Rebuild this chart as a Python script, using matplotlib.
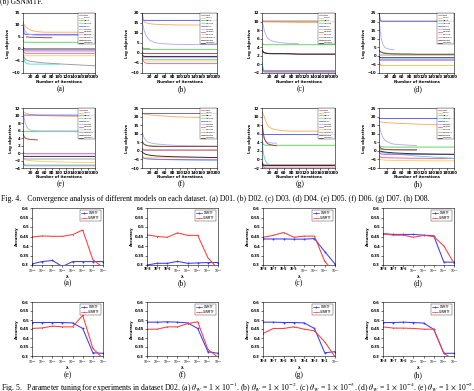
import numpy as np
import matplotlib
matplotlib.use('Agg')
import matplotlib.pyplot as plt

W, H = 474, 391
nan = np.nan

# ---------------- Fig. 4 data (convergence) ----------------
iters = [1, 3, 6, 10, 15, 20, 30, 40, 60, 80, 100, 150, 200]
models = ["NMF", "GNMF", "DRCC", "ONMTF", "DNMF", "SDNMF", "GDNMF",
          "DNMTF", "GDNMTF", "GSNMF", "GSNMTF"]
model_colors = ['#ff5c8a', '#ffae5c', '#5ad65a', '#4fdede', '#5a5aee',
                '#b9a8ff', '#b455d8', '#ffd060', '#9a9a9a', '#9a4040', '#22223a']

D01 = [
    [-1.0, -1.6, -1.8, -1.8, -1.8, -1.8, -1.8, -1.8, -1.8, -1.8, -1.8, -1.8, -1.8],
    [10.6, 10.2, 9.6, 9.0, 8.4, 8.0, 7.5, 7.2, 7.0, 7.0, 7.0, 7.0, 7.0],
    [3.4, 2.9, 2.8, 2.8, 2.8, 2.8, 2.8, 2.8, 2.8, 2.8, 2.8, 2.8, 2.8],
    [-3.0, -4.6, -5.6, -6.0, -6.2, -6.3, -6.3, -6.3, -6.3, -6.3, -6.3, nan, nan],
    [9.2, 6.4, 6.1, 6.1, 6.1, 6.1, 6.1, 6.1, 6.1, 6.1, 6.1, 6.1, 6.1],
    [11.2, 9.0, 7.4, 6.6, 6.2, 6.0, 5.8, 5.7, 5.7, 5.7, 5.7, 5.7, 5.7],
    [-0.5, -0.8, -0.8, -0.8, -0.8, -0.8, -0.8, -0.8, -0.8, -0.8, -0.8, -0.8, -0.8],
    [-2.2, -2.7, -2.8, -2.8, -2.8, -2.8, -2.8, -2.8, -2.8, -2.8, -2.8, -2.8, -2.8],
    [-2.5, -3.5, -4.2, -4.6, -4.9, -5.1, -5.3, -5.5, -5.8, -6.0, -6.2, -6.6, -7.0],
    [nan, nan, nan, 5.0, 5.0, 4.9, 4.9, 4.8, 4.7, 4.7, nan, nan, nan],
    [0.6, 0.1, 0.0, 0.0, 0.0, 0.0, 0.0, 0.0, 0.0, 0.0, 0.0, 0.0, 0.0],
]
D02 = [
    [-3.0, -3.8, -4.5, -5.0, -5.2, -5.3, -5.3, -5.3, -5.3, -5.3, -5.3, -5.3, -5.3],
    [16.3, 16.0, 15.6, 15.2, 14.9, 14.7, 14.4, 14.3, 14.2, 14.1, 14.0, 14.0, 14.0],
    [2.5, 1.8, 1.7, 1.7, 1.7, 1.7, 1.7, 1.7, 1.7, 1.7, 1.7, 1.7, 1.7],
    [-2.5, -3.2, -3.3, -3.3, -3.3, -3.3, -3.3, -3.3, -3.3, -3.3, -3.3, -3.3, -3.3],
    [20.0, 16.5, 16.3, 16.3, 16.3, 16.3, 16.3, 16.3, 16.3, 16.3, 16.3, 16.3, 16.3],
    [16.0, 13.5, 11.0, 9.0, 7.5, 6.5, 5.5, 5.0, 4.6, 4.4, 4.3, 4.2, 4.2],
    [-1.5, -2.0, -2.0, -2.0, -2.0, -2.0, -2.0, -2.0, -2.0, -2.0, -2.0, -2.0, -2.0],
    [-1.5, -2.5, -3.2, -3.7, -4.0, -4.0, -4.0, -4.0, -4.0, -4.0, -4.0, -4.0, -4.0],
    [3.0, 2.4, 2.2, 2.2, 2.2, 2.2, nan, nan, nan, nan, nan, nan, nan],
    [0.5, -0.2, -0.3, -0.3, -0.3, -0.3, -0.3, -0.3, -0.3, -0.3, -0.3, -0.3, -0.3],
    [-1.0, -1.5, -1.7, -1.7, -1.7, -1.7, -1.7, -1.7, -1.7, -1.7, -1.7, -1.7, -1.7],
]
D03 = [
    [-0.5, -1.2, -1.4, -1.4, -1.4, -1.4, -1.4, -1.4, -1.4, -1.4, -1.4, -1.4, -1.4],
    [10.1, 10.0, 9.95, 9.9, 9.9, 9.9, 9.9, 9.9, 9.85, 9.85, 9.8, 9.8, 9.8],
    [4.9, 4.7, 4.6, 4.6, 4.6, 4.6, 4.6, 4.6, 4.6, 4.6, 4.6, 4.6, 4.6],
    [0.5, -1.0, -1.4, -1.5, -1.5, -1.5, -1.5, -1.5, -1.5, -1.5, -1.5, -1.5, -1.5],
    [10.2, 10.1, 10.1, 10.1, 10.1, 10.1, 10.1, 10.1, 10.1, 10.1, 10.1, 10.1, 10.1],
    [10.0, 9.3, 8.0, 7.0, 6.2, 5.8, 5.4, 5.2, 5.0, 4.9, 4.85, nan, nan],
    [-0.8, -1.5, -1.6, -1.6, -1.6, -1.6, -1.6, -1.6, -1.6, -1.6, -1.6, -1.6, -1.6],
    [10.4, 10.2, 10.2, 10.2, 10.2, 10.2, 10.2, 10.2, 10.2, 10.2, 10.2, 10.2, 10.2],
    [-1.0, -1.7, -1.8, -1.8, -1.8, -1.8, -1.8, -1.8, -1.8, -1.8, -1.8, -1.8, -1.8],
    [3.3, 3.0, 2.8, 2.7, 2.6, 2.6, 2.5, 2.5, 2.5, 2.5, 2.4, 2.4, 2.4],
    [3.2, 2.9, 2.7, 2.6, 2.55, 2.5, 2.5, 2.5, 2.5, 2.45, 2.4, 2.4, 2.4],
]
D04 = [
    [-4.0, -5.0, -5.5, -5.6, -5.6, -5.6, -5.6, -5.6, -5.6, -5.6, -5.6, -5.6, -5.6],
    [20.5, 20.3, 20.2, 20.2, 20.2, 20.2, 20.2, 20.2, 20.2, 20.2, 20.2, 20.2, 20.2],
    [3.0, 2.6, 2.3, 2.0, 1.8, 1.6, 1.4, 1.3, 1.2, 1.1, 1.0, 1.0, 1.0],
    [-1.5, -2.0, -2.0, -2.0, -2.0, -2.0, -2.0, -2.0, -2.0, -2.0, -2.0, -2.0, -2.0],
    [25.0, 21.0, 20.3, 20.2, 20.2, 20.2, 20.2, 20.2, 20.2, 20.2, 20.2, 20.2, 20.2],
    [20.0, 15.0, 10.0, 7.0, 5.0, 4.3, 3.8, 3.5, nan, nan, nan, nan, nan],
    [-2.0, -2.5, -2.5, -2.5, -2.5, -2.5, -2.5, -2.5, -2.5, -2.5, -2.5, -2.5, -2.5],
    [-4.5, -5.3, -5.6, -5.6, -5.6, -5.6, -5.6, -5.6, -5.6, -5.6, -5.6, -5.6, -5.6],
    [0.6, 0.5, 0.5, 0.5, 0.5, 0.5, 0.5, 0.5, 0.5, 0.5, 0.5, 0.5, 0.5],
    [3.2, 2.5, 2.0, 1.7, 1.5, 1.3, 1.2, 1.1, 1.0, 1.0, 0.9, 0.9, 0.9],
    [-0.5, -1.0, -1.1, -1.1, -1.1, -1.1, -1.1, -1.1, -1.1, -1.1, -1.1, -1.1, -1.1],
]
D05 = [
    [-2.5, -3.2, -3.4, -3.4, -3.4, -3.4, -3.4, -3.4, -3.4, -3.4, -3.4, -3.4, -3.4],
    [11.1, 10.9, 10.7, 10.5, 10.4, 10.3, 10.2, 10.1, 10.0, 9.9, 9.85, 9.75, 9.7],
    [6.0, 5.8, 5.7, 5.7, 5.7, 5.7, 5.7, 5.7, 5.7, 5.7, 5.7, 5.7, 5.7],
    [-2.5, -3.0, -3.2, -3.2, -3.2, -3.2, -3.2, -3.2, -3.2, -3.2, -3.2, -3.2, -3.2],
    [10.2, 10.1, 10.1, 10.1, 10.1, 10.1, 10.1, 10.1, 10.1, 10.1, 10.1, 10.1, 10.1],
    [11.0, 9.5, 8.0, 7.0, 6.4, 6.1, 6.0, 5.9, 5.9, 5.9, 5.9, 5.9, 5.9],
    [0.2, -0.1, -0.2, -0.2, -0.2, -0.2, -0.2, -0.2, -0.2, -0.2, -0.2, -0.2, -0.2],
    [-1.5, -1.7, -1.8, -1.9, -2.0, -2.0, -2.1, -2.2, -2.3, -2.3, -2.4, -2.5, -2.5],
    [-1.2, -1.5, -1.6, -1.6, -1.6, -1.6, -1.6, -1.6, -1.6, -1.6, -1.6, -1.6, -1.6],
    [4.9, 4.4, 4.0, 3.8, 3.7, 3.6, 3.55, 3.5, nan, nan, nan, nan, nan],
    [-0.7, -0.9, -0.9, -0.9, -0.9, -0.9, -0.9, -0.9, -0.9, -0.9, -0.9, -0.9, -0.9],
]
D06 = [
    [0.8, 0.4, 0.3, 0.3, 0.3, 0.3, 0.3, 0.3, 0.3, 0.3, 0.3, 0.3, 0.3],
    [21.8, 21.6, 21.5, 21.3, 21.2, 21.0, 20.8, 20.6, 20.3, 20.0, 19.8, 19.5, 19.3],
    [5.0, 4.3, 3.8, 3.5, 3.2, 3.0, 2.9, 2.8, 2.7, 2.7, 2.7, 2.7, 2.7],
    [-3.5, -4.2, -4.5, -4.6, -4.7, -4.8, -4.9, -5.0, -5.1, -5.2, -5.3, -5.4, -5.5],
    [22.0, 21.8, 21.8, 21.8, 21.8, 21.8, 21.8, 21.8, 21.8, 21.8, 21.8, 21.8, 21.8],
    [10.5, 9.0, 7.5, 6.2, 5.3, 4.8, 4.3, 4.0, 3.6, 3.3, 3.1, 2.9, 2.7],
    [-3.0, -4.0, -4.3, -4.5, -4.6, -4.7, -4.8, -4.9, -5.0, -5.0, -5.1, -5.2, -5.2],
    [-2.5, -3.5, -3.8, -4.0, -4.0, -4.0, -4.0, -4.0, -4.0, -4.0, -4.0, -4.0, -4.0],
    [1.5, 0.9, 0.7, 0.6, 0.6, 0.6, 0.6, 0.6, 0.6, 0.6, 0.6, 0.6, 0.6],
    [5.6, 4.5, 3.8, 3.3, 3.0, 2.8, 2.6, 2.5, 2.5, 2.5, 2.5, 2.5, 2.5],
    [-0.8, -1.2, -1.6, -2.0, -2.3, -2.5, -2.8, -3.0, -3.2, -3.4, -3.5, -3.7, -3.9],
]
D07 = [
    [-1.0, -1.6, -1.9, -2.0, -2.0, -2.0, -2.0, -2.0, -2.0, -2.0, -2.0, -2.0, -2.0],
    [11.0, 10.6, 10.0, 9.0, 8.0, 7.5, 7.1, 6.9, 6.7, 6.6, 6.6, 6.6, 6.6],
    [4.2, 3.6, 3.4, 3.3, 3.3, 3.3, 3.3, 3.3, 3.3, 3.3, 3.3, 3.3, 3.3],
    [4.0, 2.0, 0.5, -0.5, -1.0, -1.2, -1.3, -1.3, -1.3, -1.3, -1.3, -1.3, -1.3],
    [6.0, 6.0, 6.0, 6.0, 6.0, 6.0, 6.0, 6.0, 6.0, 6.0, 6.0, 6.0, 6.0],
    [8.0, 6.0, 4.8, 4.3, 4.0, 3.9, 3.8, 3.8, nan, nan, nan, nan, nan],
    [-1.2, -1.5, -1.5, -1.5, -1.5, -1.5, -1.5, -1.5, -1.5, -1.5, -1.5, -1.5, -1.5],
    [-0.6, -1.1, -1.2, -1.2, -1.2, -1.2, -1.2, -1.2, -1.2, -1.2, -1.2, -1.2, -1.2],
    [-0.8, -1.2, -1.3, -1.3, -1.3, -1.3, -1.3, -1.3, -1.3, -1.3, -1.3, -1.3, -1.3],
    [8.0, 6.5, 5.0, 4.2, 3.7, 3.5, 3.3, 3.2, nan, nan, nan, nan, nan],
    [-1.0, -1.3, -1.4, -1.4, -1.4, -1.4, -1.4, -1.4, -1.4, -1.4, -1.4, -1.4, -1.4],
]
D08 = [
    [-3.0, -3.5, -3.8, -4.0, -4.0, -4.0, -4.1, -4.1, -4.2, -4.3, -4.3, -4.4, -4.5],
    [17.0, 16.9, 16.8, 16.7, 16.6, 16.5, 16.3, 16.2, 16.0, 15.8, 15.6, 15.3, 15.1],
    [3.5, 2.8, 2.5, 2.3, 2.2, 2.2, 2.2, 2.2, 2.2, 2.2, 2.2, 2.2, 2.2],
    [0.0, -0.5, -0.8, -1.0, -1.2, -1.3, -1.6, -1.8, -2.2, -2.6, -3.0, -3.7, -4.3],
    [18.9, 18.9, 18.9, 18.9, 18.9, 18.9, 18.9, 18.9, 18.9, 18.9, 18.9, 18.9, 18.9],
    [15.0, 12.5, 10.4, 8.0, 6.3, 5.6, 4.5, 3.9, 3.6, 3.3, 3.1, nan, nan],
    [-1.0, -1.5, -1.8, -1.9, -2.0, -2.0, -2.0, -2.0, -2.0, -2.0, -2.0, -2.0, -2.0],
    [-4.5, -5.0, -5.2, -5.3, -5.4, -5.5, -5.5, -5.6, -5.6, -5.7, -5.7, -5.8, -5.8],
    [1.5, 1.0, 0.8, 0.7, 0.7, 0.7, 0.7, 0.7, 0.7, 0.7, 0.7, nan, nan],
    [2.7, 2.0, 1.5, 1.1, 0.9, 0.8, 0.7, 0.6, 0.55, 0.5, 0.5, nan, nan],
    [0.0, -0.1, -0.3, -0.5, -0.7, -0.8, -1.0, -1.2, -1.4, -1.6, -1.7, -1.9, -2.0],
]
conv_data = [D01, D02, D03, D04, D05, D06, D07, D08]
conv_ylims = [(-10, 15), (-10, 20), (-2, 12), (-10, 25), (-4, 12), (-10, 25), (-2, 12), (-10, 25)]
conv_ysteps = [5, 5, 2, 5, 2, 5, 2, 5]
iter_ticks = [20, 40, 60, 80, 100, 120, 140, 160, 180, 200]

# ---------------- Fig. 5 data (parameter tuning) ----------------
lam_pos = [0, 1, 2, 3, 4, 5, 6, 7]
sup = ['$10^{-8}$', '$10^{-7}$', '$10^{-6}$', '$10^{-5}$', '$10^{-4}$', '$10^{-3}$', '$10^{-2}$', '$10^{-1}$']
e_fmt = ['1E-8', '1E-7', '1E-6', '1E-5', '1E-4', '1E-3', '1E-2', '1E-1']
lam_labels = [
    sup,
    e_fmt[:3] + sup[3:],
    e_fmt[:4] + sup[4:],
    e_fmt[:3] + sup[3:],
    sup,
    sup,
    e_fmt[:7] + sup[7:],
    e_fmt[:3] + sup[3:],
]
acc_blue = [
    [0.306, 0.318, 0.324, 0.292, 0.318, 0.318, 0.318, 0.318],
    [0.300, 0.309, 0.309, 0.319, 0.309, 0.311, 0.313, 0.313],
    [0.437, 0.437, 0.437, 0.436, 0.436, 0.439, 0.371, 0.305],
    [0.465, 0.461, 0.461, 0.461, 0.457, 0.454, 0.315, 0.315],
    [0.486, 0.486, 0.486, 0.486, 0.484, 0.453, 0.318, 0.315],
    [0.488, 0.488, 0.490, 0.488, 0.484, 0.453, 0.324, 0.315],
    [0.488, 0.488, 0.486, 0.486, 0.484, 0.453, 0.318, 0.324],
    [0.486, 0.486, 0.488, 0.486, 0.483, 0.448, 0.315, 0.315],
]
acc_red = [
    [0.447, 0.453, 0.451, 0.451, 0.460, 0.484, 0.328, 0.287],
    [0.459, 0.450, 0.446, 0.469, 0.456, 0.456, 0.338, 0.280],
    [0.446, 0.456, 0.471, 0.446, 0.452, 0.452, 0.319, 0.260],
    [0.465, 0.457, 0.457, 0.446, 0.456, 0.450, 0.400, 0.309],
    [0.453, 0.456, 0.466, 0.462, 0.462, 0.526, 0.342, 0.287],
    [0.449, 0.449, 0.462, 0.462, 0.480, 0.490, 0.337, 0.293],
    [0.425, 0.453, 0.453, 0.462, 0.449, 0.440, 0.379, 0.296],
    [0.462, 0.455, 0.455, 0.453, 0.449, 0.449, 0.315, 0.278],
]
tune_models = ["DNMTF", "GSNMTF"]
acc_yticks = [0.3, 0.35, 0.4, 0.45, 0.5, 0.55, 0.6]

panel_letters = ['(a)', '(b)', '(c)', '(d)', '(e)', '(f)', '(g)', '(h)']

# ---------------- figure ----------------
fig = plt.figure(figsize=(W / 100, H / 100), dpi=100)
serif = 'Liberation Serif'


def add_ax(l, t, r, b):
    return fig.add_axes([l / W, 1 - b / H, (r - l) / W, (b - t) / H])


def style_ax(ax, xsize=2.8):
    for s in ax.spines.values():
        s.set_linewidth(0.4)
    ax.tick_params(axis='both', length=1.2, width=0.4, pad=0.8, labelsize=2.8)
    ax.tick_params(axis='x', labelsize=xsize, pad=0.6)
    for lab in ax.get_xticklabels() + ax.get_yticklabels():
        lab.set_fontweight('bold')


def small_legend(ax, fs, spacing, hl, bpad):
    leg = ax.legend(loc='upper right', fontsize=fs, handlelength=hl, handletextpad=0.4,
                    borderpad=0.35, labelspacing=spacing, borderaxespad=bpad,
                    frameon=True, fancybox=False)
    leg.get_frame().set_linewidth(0.3)
    leg.get_frame().set_edgecolor('black')
    for line in leg.get_lines():
        line.set_linewidth(0.5)
    return leg


conv_cols = [(23, 95), (142, 217), (262, 335), (379, 454)]
conv_rows = [(13, 73), (108, 168)]
for k in range(8):
    r, c = divmod(k, 4)
    l, rr = conv_cols[c]
    t, b = conv_rows[r]
    ax = add_ax(l, t, rr, b)
    for s_idx, series in enumerate(conv_data[k]):
        ax.plot(iters, series, color=model_colors[s_idx], lw=0.65, label=models[s_idx])
    ax.set_xlim(0, 200)
    lo, hi = conv_ylims[k]
    ax.set_ylim(lo, hi)
    ax.set_yticks(np.arange(lo, hi + 0.01, conv_ysteps[k]))
    ax.set_xticks(iter_ticks)
    style_ax(ax)
    ax.set_xlabel('Number of iterations', fontsize=2.8, fontweight='bold', labelpad=0.5)
    ax.set_ylabel('Log objective', fontsize=2.8, fontweight='bold', labelpad=0.8)
    small_legend(ax, 1.6, 0.55, 1.8, 0.15)
    cx = (l + rr) / 2 + 2
    ty = 89 if r == 0 else 184
    fig.text(cx / W, 1 - ty / H, panel_letters[k], ha='center', va='center',
             fontsize=5.5, family=serif)

tune_cols = [(32, 103), (147, 218), (263, 335), (383, 454)]
tune_rows = [(208, 265), (302, 356)]
for k in range(8):
    r, c = divmod(k, 4)
    l, rr = tune_cols[c]
    t, b = tune_rows[r]
    ax = add_ax(l, t, rr, b)
    ax.plot(lam_pos, acc_blue[k], color='#3b3bff', lw=0.75, marker='*', ms=1.3,
            mew=0.3, label=tune_models[0])
    ax.plot(lam_pos, acc_red[k], color='#ff3b3b', lw=0.75, marker='.', ms=1.1,
            mew=0.3, label=tune_models[1])
    ax.set_xlim(0, 7)
    ax.set_ylim(0.3, 0.6)
    ax.set_yticks(acc_yticks)
    ax.set_yticklabels([f'{v:g}' for v in acc_yticks])
    ax.set_xticks(lam_pos)
    ax.set_xticklabels(lam_labels[k])
    style_ax(ax, xsize=2.2)
    ax.set_xlabel('λ', fontsize=3.2, fontweight='bold', labelpad=0.0)
    ax.set_ylabel('Accuracy', fontsize=2.8, fontweight='bold', labelpad=0.8)
    small_legend(ax, 2.0, 0.35, 2.4, 0.8)
    cx = (l + rr) / 2
    ty = 283 if r == 0 else 375
    fig.text(cx / W, 1 - ty / H, panel_letters[k], ha='center', va='center',
             fontsize=5.5, family=serif)

# captions
fig.text(0 / W, 1 - 1 / H, '(b) GSNMTF.', ha='left', va='center', fontsize=5.5, family=serif)
fig.text(1 / W, 1 - 199.5 / H,
         'Fig. 4.   Convergence analysis of different models on each dataset. (a) D01. (b) D02. '
         '(c) D03. (d) D04. (e) D05. (f) D06. (g) D07. (h) D08.',
         ha='left', va='center', fontsize=5.6, family=serif)
fig.text(1 / W, 1 - 388 / H,
         r'Fig. 5.   Parameter tuning for experiments in dataset D02. (a) $\theta_W$ = 1 $\times$ 10$^{-1}$. '
         r'(b) $\theta_W$ = 1 $\times$ 10$^{-2}$. (c) $\theta_W$ = 1 $\times$ 10$^{-3}$. '
         r'(d) $\theta_W$ = 1 $\times$ 10$^{-4}$. (e) $\theta_W$ = 1 $\times$ 10$^{-5}$.',
         ha='left', va='center', fontsize=5.6, family=serif, math_fontfamily='stix')

fig.savefig('out.png', dpi=100)
